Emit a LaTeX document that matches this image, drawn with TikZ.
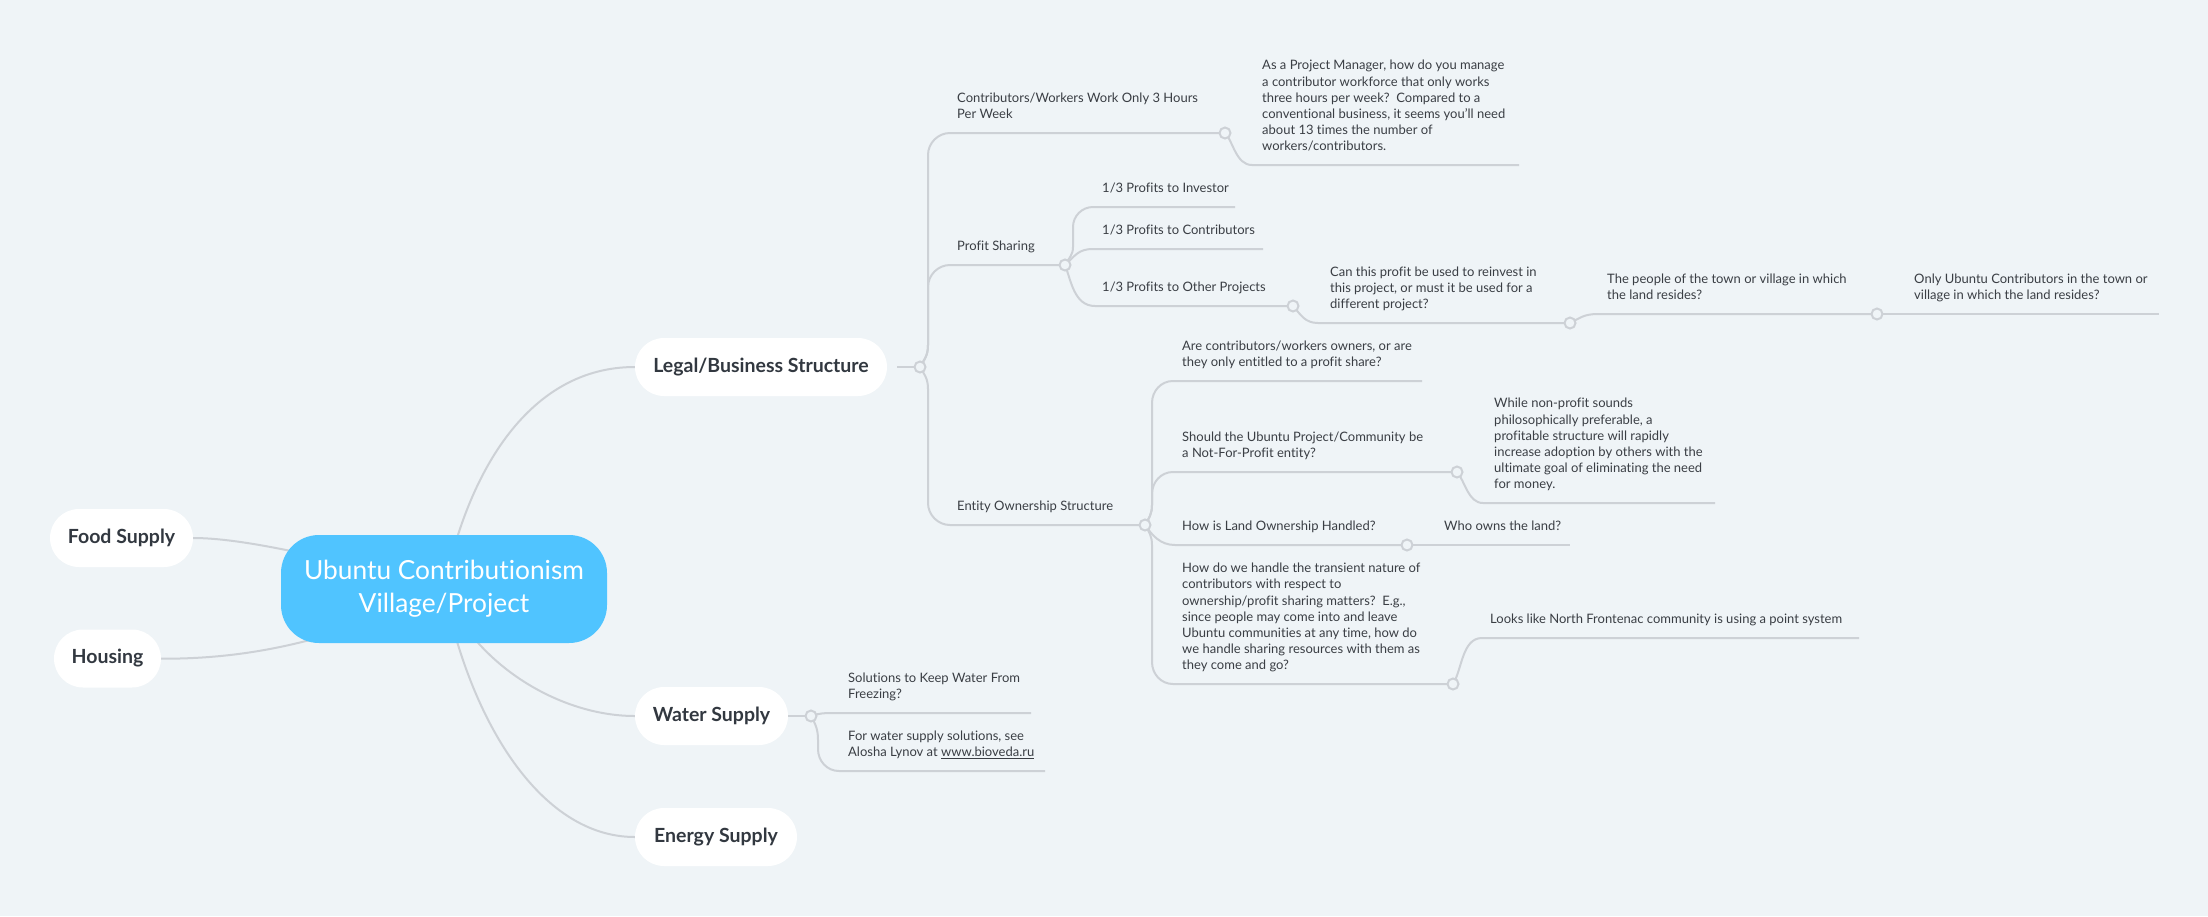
\documentclass[tikz,border=0pt]{standalone}
\usepackage{fontspec}
\setmainfont{Lato}[Ligatures=NoCommon]
\definecolor{bgc}{RGB}{239,244,247}
\definecolor{linec}{RGB}{205,209,214}
\definecolor{rootc}{RGB}{80,196,255}
\definecolor{txtc}{RGB}{58,62,68}
\definecolor{boldc}{RGB}{50,56,64}
\pgfdeclarelayer{back}
\pgfdeclarelayer{lines}
\pgfsetlayers{back,lines,main}
\begin{document}
\begin{tikzpicture}[x=1pt,y=-1pt,
  conn/.style={draw=linec, line width=2pt},
  dot/.style={circle, draw=linec, line width=2pt, fill=bgc, minimum size=11pt, inner sep=0pt},
  mainbox/.style={rectangle, rounded corners=29pt, fill=white, minimum height=58pt, inner sep=0pt, text=boldc, font=\fontsize{19.5}{23}\selectfont\bfseries},
  rootbox/.style={rectangle, rounded corners=38pt, fill=rootc, minimum width=326pt, minimum height=108pt, inner sep=0pt, text=white, align=center, font=\fontsize{26.3}{33}\selectfont},
  lbl/.style={anchor=south west, inner sep=0pt, align=left, text=txtc, font=\fontsize{13}{16.2}\selectfont, execute at end node=\strut}]
\begin{pgfonlayer}{back}
\fill[bgc] (0,0) rectangle (2208,916);
\end{pgfonlayer}
\useasboundingbox (0,0) rectangle (2208,916);

% main nodes
\node[rootbox] (root) at (444,589) {Ubuntu Contributionism\\Village/Project};
\node[mainbox, minimum width=252pt] (legal) at (761,367) {Legal/Business Structure};
\node[mainbox, minimum width=153pt] (water) at (711.5,716) {Water Supply};
\node[mainbox, minimum width=162pt] (energy) at (716,837) {Energy Supply};
\node[mainbox, minimum width=143pt] (food) at (121.5,538) {Food Supply};
\node[mainbox, minimum width=107pt] (housing) at (107.5,658.5) {Housing};

% junction dots
\node[dot] (lc) at (920,367) {};
\node[dot] (ac) at (1225,133) {};
\node[dot] (bc) at (1065,265) {};
\node[dot] (b3c) at (1293,306) {};
\node[dot] (b3ac) at (1570,323) {};
\node[dot] (b3a1c) at (1877,314) {};
\node[dot] (cc) at (1145,525) {};
\node[dot] (c2c) at (1457,472) {};
\node[dot] (c3c) at (1407,545) {};
\node[dot] (c4c) at (1453,684) {};
\node[dot] (wc) at (811,716) {};

% underline ends
\coordinate (a1e) at (1519,165);
\coordinate (b1e) at (1235,207);
\coordinate (b2e) at (1263,249);
\coordinate (b3a1ae) at (2159,314);
\coordinate (c1e) at (1422,381);
\coordinate (c2ae) at (1715,503);
\coordinate (c3ae) at (1570,545);
\coordinate (c4ae) at (1859,638);
\coordinate (w1e) at (1031,713);
\coordinate (w2e) at (1045,771);

% labels
\node[lbl] (ta) at (957,123.9) {Contributors/Workers Work Only 3 Hours\\Per Week};
\node[lbl] (ta1) at (1262,155.9) {As a Project Manager, how do you manage\\a contributor workforce that only works\\three hours per week?\ \ Compared to a\\conventional business, it seems you'll need\\about 13 times the number of\\workers/contributors.};
\node[lbl] (tb) at (957,255.9) {Profit Sharing};
\node[lbl] (tb1) at (1102,197.9) {1/3 Profits to Investor};
\node[lbl] (tb2) at (1102,239.9) {1/3 Profits to Contributors};
\node[lbl] (tb3) at (1102,296.9) {1/3 Profits to Other Projects};
\node[lbl] (tb3a) at (1330,313.9) {Can this profit be used to reinvest in\\this project, or must it be used for a\\different project?};
\node[lbl] (tb3a1) at (1607,304.9) {The people of the town or village in which\\the land resides?};
\node[lbl] (tb3a1a) at (1914,304.9) {Only Ubuntu Contributors in the town or\\village in which the land resides?};
\node[lbl] (tc) at (957,515.9) {Entity Ownership Structure};
\node[lbl] (tc1) at (1182,371.9) {Are contributors/workers owners, or are\\they only entitled to a profit share?};
\node[lbl] (tc2) at (1182,462.9) {Should the Ubuntu Project/Community be\\a Not-For-Profit entity?};
\node[lbl] (tc2a) at (1494,493.9) {While non-profit sounds\\philosophically preferable, a\\profitable structure will rapidly\\increase adoption by others with the\\ultimate goal of eliminating the need\\for money.};
\node[lbl] (tc3) at (1182,535.9) {How is Land Ownership Handled?};
\node[lbl] (tc3a) at (1444,535.9) {Who owns the land?};
\node[lbl] (tc4) at (1182,674.9) {How do we handle the transient nature of\\contributors with respect to\\ownership/profit sharing matters?\ \ E.g.,\\since people may come into and leave\\Ubuntu communities at any time, how do\\we handle sharing resources with them as\\they come and go?};
\node[lbl] (tc4a) at (1490,628.9) {Looks like North Frontenac community is using a point system};
\node[lbl] (tw1) at (848,703.9) {Solutions to Keep Water From\\Freezing?};
\node[lbl] (tw2) at (848,761.9) {For water supply solutions, see\\Alosha Lynov at \underline{www.bioveda.ru}};

\begin{pgfonlayer}{lines}
% root connectors
\draw[conn] (root.center) .. controls (468,470) and (530,367) .. (legal.west);
\draw[conn] (root.center) .. controls (475,665) and (560,716) .. (water.west);
\draw[conn] (root.center) .. controls (470,720) and (540,837) .. (energy.west);
\draw[conn] (root.center) .. controls (320,555) and (240,538) .. (food);
\draw[conn] (root.center) .. controls (330,645) and (240,659) .. (housing);
% legal
\draw[conn, shorten <=10pt] (legal.east) -- (lc);
\draw[conn] (lc.center) .. controls (924,360) and (928,356) .. (928,345) -- (928,155) .. controls (928,143) and (938,133) .. (950,133) -- (ac.center);
\draw[conn] (lc.center) .. controls (924,360) and (928,356) .. (928,345) -- (928,287) .. controls (928,275) and (938,265) .. (950,265) -- (bc.center);
\draw[conn] (lc.center) .. controls (924,374) and (928,378) .. (928,389) -- (928,503) .. controls (928,515) and (938,525) .. (950,525) -- (cc.center);
\draw[conn] (ac.center) .. controls (1233,141) and (1236,165) .. (1252,165) -- (a1e);
% profit sharing
\draw[conn] (bc.center) .. controls (1069,258) and (1073,255) .. (1073,247) -- (1073,227) .. controls (1073,216) and (1082,207) .. (1093,207) -- (b1e);
\draw[conn] (bc.center) .. controls (1075,256) and (1078,249) .. (1093,249) -- (b2e);
\draw[conn] (bc.center) .. controls (1071,280) and (1074,306) .. (1095,306) -- (b3c.center);
\draw[conn] (b3c.center) .. controls (1301,315) and (1305,323) .. (1318,323) -- (b3ac.center);
\draw[conn] (b3ac.center) .. controls (1580,318) and (1584,314) .. (1598,314) -- (b3a1c.center);
\draw[conn] (b3a1c.center) -- (b3a1ae);
% entity ownership
\draw[conn] (cc.center) .. controls (1149,518) and (1152,514) .. (1152,505) -- (1152,403) .. controls (1152,391) and (1161,381) .. (1173,381) -- (c1e);
\draw[conn] (cc.center) .. controls (1149,518) and (1152,514) .. (1152,505) -- (1152,494) .. controls (1152,482) and (1161,472) .. (1173,472) -- (c2c.center);
\draw[conn] (cc.center) .. controls (1152,535) and (1160,545) .. (1175,545) -- (c3c.center);
\draw[conn] (cc.center) .. controls (1149,532) and (1152,536) .. (1152,545) -- (1152,662) .. controls (1152,674) and (1161,684) .. (1173,684) -- (c4c.center);
\draw[conn] (c2c.center) .. controls (1465,481) and (1468,503) .. (1483,503) -- (c2ae);
\draw[conn] (c3c.center) -- (c3ae);
\draw[conn] (c4c.center) .. controls (1462,670) and (1462,638) .. (1482,638) -- (c4ae);
% water
\draw[conn] (water) -- (wc);
\draw[conn] (wc.center) .. controls (820,713) and (825,713) .. (833,713) -- (w1e);
\draw[conn] (wc.center) .. controls (816,725) and (818,730) .. (818,740) -- (818,749) .. controls (818,761) and (827,771) .. (839,771) -- (w2e);
\end{pgfonlayer}
\end{tikzpicture}
\end{document}
